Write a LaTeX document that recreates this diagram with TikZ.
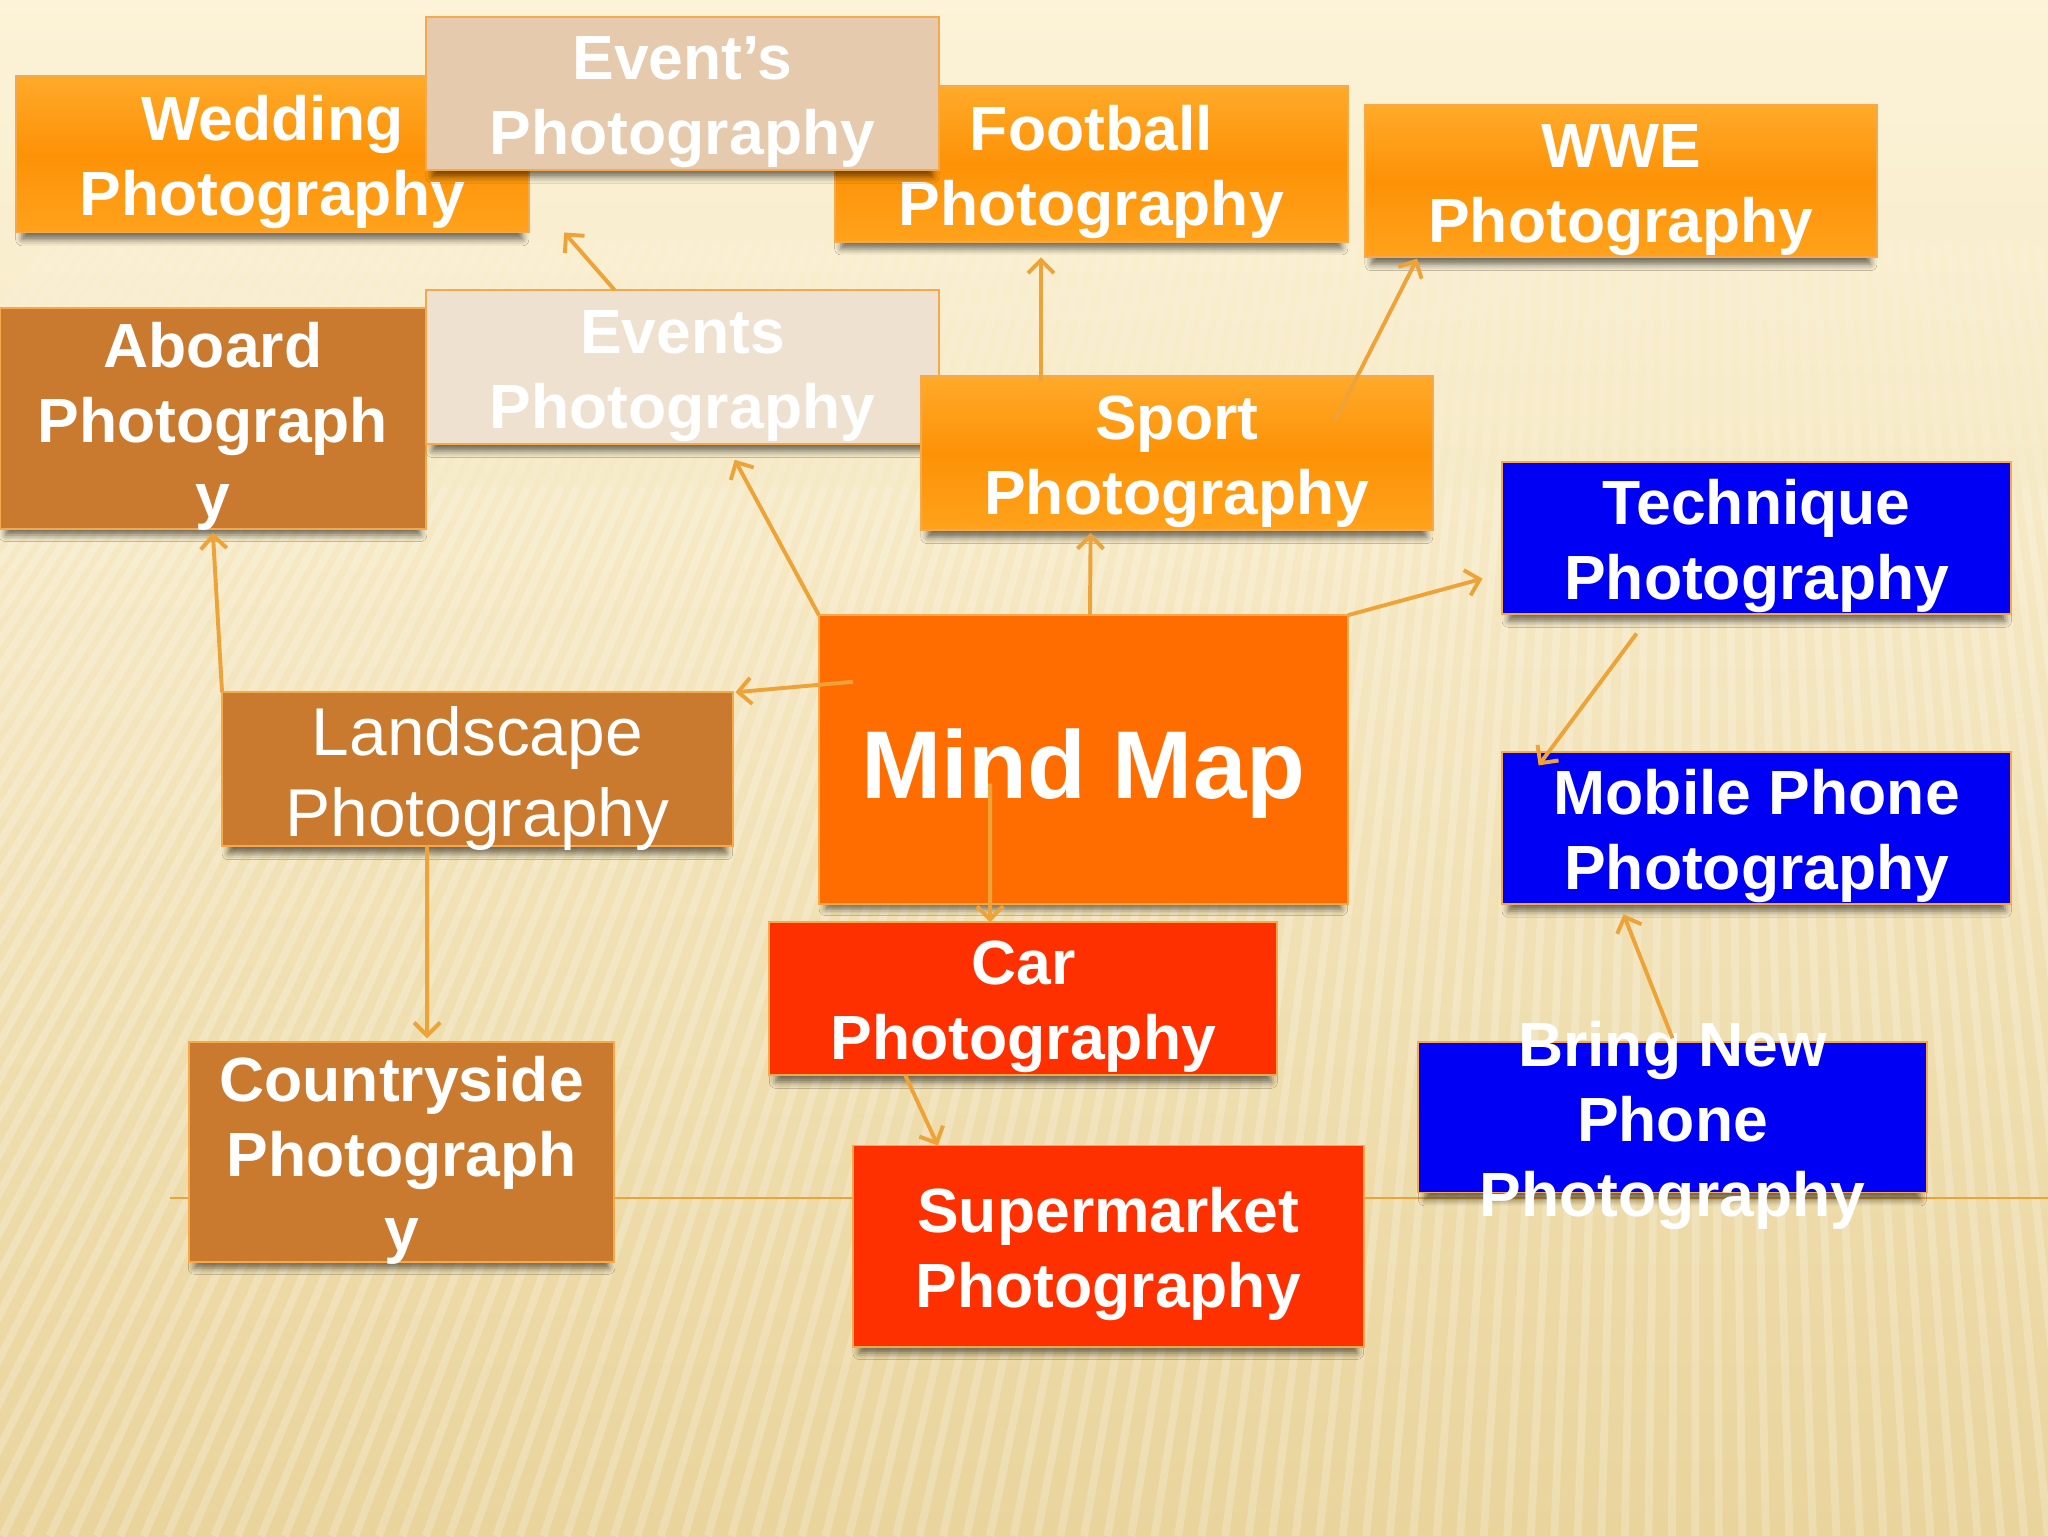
\documentclass[tikz,border=0pt]{standalone}
\usepackage{fontspec}
\setmainfont{Liberation Sans}
\usetikzlibrary{arrows.meta,shadows.blur,calc}
\definecolor{bgtop}{HTML}{FCF3D8}
\definecolor{bgmid}{HTML}{F7E6B8}
\definecolor{bgbot}{HTML}{E9D49C}
\definecolor{orgtop}{HTML}{FFAA2A}
\definecolor{orgmid}{HTML}{FD9206}
\definecolor{orgbot}{HTML}{FFA21C}
\definecolor{beigeA}{HTML}{E5CAAD}
\definecolor{beigeB}{HTML}{EFE1CF}
\definecolor{brownbox}{HTML}{C97A2E}
\definecolor{mindcol}{HTML}{FF6D00}
\definecolor{redbox}{HTML}{FF3000}
\definecolor{bluebox}{HTML}{0000F5}
\definecolor{boxborder}{HTML}{F5A94A}
\definecolor{arrowcol}{HTML}{EEA338}
\tikzset{
  twolines/.style={text height=100bp, text depth=6bp},
  threelines/.style={text height=160bp, text depth=8bp},
  box/.style={draw=boxborder, line width=1.5bp, inner sep=0pt, outer sep=0pt,
    anchor=center, align=center, text=white,
    font=\bfseries\fontsize{48}{57.6}\selectfont,
    blur shadow={shadow xshift=0bp, shadow yshift=-7bp, shadow scale=0.975, shadow blur radius=5bp, shadow opacity=55}},
  orangebox/.style={box, top color=orgtop, bottom color=orgbot, middle color=orgmid},
  brownfill/.style={box, fill=brownbox},
  bluefill/.style={box, fill=bluebox},
  redfill/.style={box, fill=redbox},
  arr/.style={draw=arrowcol, line width=3bp, -{Straight Barb[length=10bp,width=20bp]}},
  stripe/.style={white, line width=6bp}
}
\begin{document}
\begin{tikzpicture}[x=1bp,y=-1bp]
\useasboundingbox (0,0) rectangle (1568,1176);
% background
\shade[top color=bgtop, middle color=bgmid, bottom color=bgbot] (0,0) rectangle (1568,1176);
\begin{scope}
\clip (0,0) rectangle (1568,1176);
\foreach \xb in {-700,-682,...,1900}{
  \draw[stripe, opacity=0.22] (\xb,1176) -- ($(\xb,1176)!0.30!(1300,-1500)$);
  \draw[stripe, opacity=0.10] ($(\xb,1176)!0.30!(1300,-1500)$) -- ($(\xb,1176)!0.37!(1300,-1500)$);
}
\end{scope}
\draw[arrowcol, line width=1.5bp] (130,917) -- (1568,917);

% boxes
\node[orangebox, twolines, minimum width=393bp, minimum height=120bp] (wedding) at (208.5,118) {Wedding\\Photography};
\node[orangebox, twolines, minimum width=393bp, minimum height=119bp] (football) at (835.5,125.5) {Football\\Photography};
\node[box, twolines, fill=beigeA, minimum width=393bp, minimum height=117bp] (evtA) at (522.5,71.5) {Event’s\\Photography};
\node[orangebox, twolines, minimum width=392bp, minimum height=117bp] (wwe) at (1241,138.5) {WWE\\Photography};
\node[brownfill, threelines, minimum width=326bp, minimum height=169bp] (aboard) at (163,320.5) {Aboard\\Photograph\\y};
\node[box, twolines, fill=beigeB, minimum width=393bp, minimum height=118bp] (evtB) at (522.5,281) {Events\\Photography};
\node[orangebox, twolines, minimum width=392bp, minimum height=118bp] (sport) at (901,347) {Sport\\Photography};
\node[bluefill, twolines, minimum width=390bp, minimum height=116bp] (technique) at (1345,412) {Technique\\Photography};
\node[box, fill=mindcol, text height=60bp, text depth=0bp, minimum width=405bp, minimum height=221bp, font=\bfseries\fontsize{74}{88}\selectfont] (mind) at (829.5,581.5) {Mind Map};
\node[brownfill, text height=108bp, text depth=5bp, minimum width=391bp, minimum height=118bp, font=\fontsize{52}{62}\selectfont] (landscape) at (365.5,589) {Landscape\\Photography};
\node[bluefill, twolines, minimum width=390bp, minimum height=116bp] (mobile) at (1345,634) {Mobile Phone\\Photography};
\node[redfill, twolines, minimum width=389bp, minimum height=117bp] (car) at (783.5,764.5) {Car\\Photography};
\node[brownfill, threelines, minimum width=325bp, minimum height=168bp] (countryside) at (307.5,882) {Countryside\\Photograph\\y};
\node[redfill, twolines, minimum width=391bp, minimum height=154bp] (supermarket) at (848.5,954) {Supermarket\\Photography};
\node[bluefill, minimum width=389bp, minimum height=115bp] (bring) at (1280.5,855.5) {};
\node[threelines, align=center, text=white, inner sep=0pt, font=\bfseries\fontsize{48}{57.6}\selectfont] (bringtxt) at (1280.5,855.5) {Bring New\\Phone\\Photography};

% connectors
\draw[arr] ([xshift=-52bp]evtB.north) -- ([xshift=27bp]wedding.south east);
\draw[arr] (mind.north west) -- ([xshift=40bp,yshift=-12bp]evtB.south);
\draw[arr] ([xshift=5bp]mind.north) -- ([xshift=-66bp,yshift=-2bp]sport.south);
\draw[arr] ([xshift=-104bp,yshift=-4bp]sport.north) -- ([xshift=-38.5bp,yshift=-12bp]football.south);
\draw[arr] ([xshift=121bp,yshift=-34bp]sport.north) -- ([xshift=40bp,yshift=-1bp]wwe.south west);
\draw[arr] (mind.north east) -- ([xshift=-15bp,yshift=-31bp]technique.west);
\draw[arr] ([xshift=-92bp,yshift=-15bp]technique.south) -- ([xshift=28bp,yshift=-10bp]mobile.north west);
\draw[arr] ([xshift=26bp,yshift=-51bp]mind.north west) -- ([xshift=2bp]landscape.north east);
\draw[arr] (landscape.north west) -- ([yshift=-3bp]aboard.south);
\draw[arr] ([xshift=-38.5bp]landscape.south) -- ([xshift=19.5bp,yshift=3bp]countryside.north);
\draw[arr] ([xshift=-71.5bp,yshift=-18.5bp]mind.center) -- ([xshift=-25.5bp]car.north);
\draw[arr] ([xshift=-90.5bp]car.south) -- ([xshift=-130.5bp]supermarket.north);
\draw[arr] ([yshift=3bp]bring.north) -- ([xshift=-102bp,yshift=-8bp]mobile.south);
\end{tikzpicture}
\end{document}
